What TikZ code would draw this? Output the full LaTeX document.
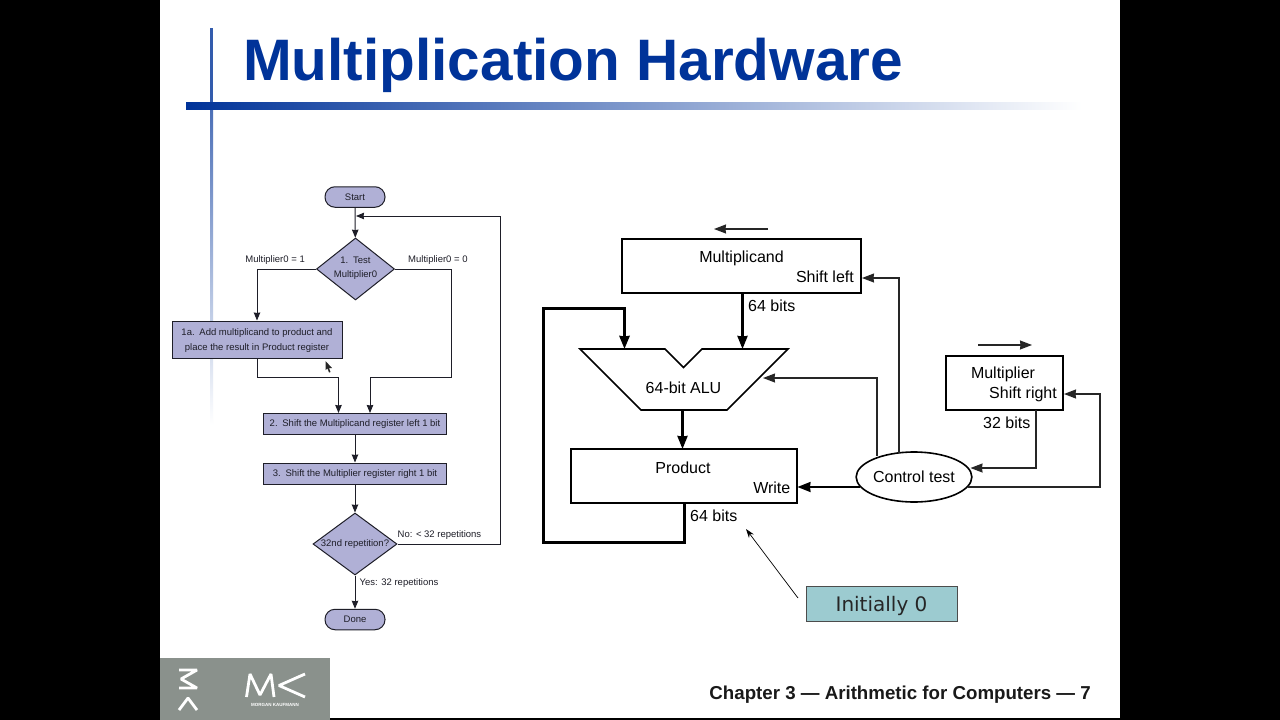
\documentclass[tikz,border=0pt]{standalone}
\usepackage{fontspec}
\setmainfont{Liberation Sans}
\newfontfamily\dejavu{DejaVu Sans}
\usetikzlibrary{shapes.geometric,arrows.meta}
\definecolor{slideblue}{RGB}{0,51,153}
\definecolor{flowfill}{RGB}{176,176,214}
\definecolor{noteteal}{RGB}{156,203,208}
\definecolor{logogray}{RGB}{138,145,140}
\definecolor{inkdark}{RGB}{30,30,40}

\begin{document}
\begin{tikzpicture}[
		x=1pt,y=-1pt,
		>={Stealth[length=8pt,width=6.5pt,inset=0.5pt]},
		flowtext/.style={font=\fontsize{9.5}{14.5}\selectfont,text=inkdark},
		flowbox/.style={
			flowtext,
			draw=inkdark,
			line width=1pt,
			fill=flowfill,
			rectangle,
			align=center,
			text depth=0pt,
			inner sep=0pt
		},
		flowpill/.style={
			flowbox,
			rounded corners=10pt,
			minimum width=60pt,
			minimum height=20.5pt
		},
		flowdiamond/.style={
			flowbox,
			diamond,
			aspect=1.24,
			text depth=2pt,
			minimum width=78pt,
			minimum height=62pt
		},
		flowline/.style={line width=1pt,draw=inkdark},
		flowarrow/.style={flowline,->},
		reg/.style={draw=black,line width=1.6pt,fill=white,rectangle,inner sep=0pt},
		regtext/.style={font=\fontsize{16}{18}\selectfont,inner sep=0pt,text=black},
		logostroke/.style={white,line width=2.8pt,line join=bevel},
		thinbus/.style={line width=1.2pt,draw=black!85,->,>={Stealth[length=12pt,width=9pt,inset=0.5pt]}},
		thickbus/.style={line width=2.4pt,draw=black,->,>={Stealth[length=13pt,width=10pt,inset=0.5pt]}}
		]
		% Slide background
		\useasboundingbox (0,0) rectangle (1280,720);
		\fill[black] (0,0) rectangle (1280,720);
		\fill[white] (160,0) rectangle (1119.5,718);
		
		% Title rules
		\fill[slideblue!80!white] (210,28) rectangle (213,110);
		\fill[top color=slideblue!70!white,bottom color=white] (210,110) rectangle (213,425);
		\fill[left color=slideblue,right color=white] (186,102.5) rectangle (1082,109.5);
		\node[anchor=base west,inner sep=0pt,text=slideblue,font=\fontsize{58.5}{60}\selectfont\bfseries] (title) at (243,80) {Multiplication Hardware};
		
		% Flow chart
		\node[flowpill] (start) at (355,197) {Start};
		\node[flowdiamond,text depth=4pt] (test) at (355.5,269) {1.\enspace Test\\Multiplier0};
		\node[flowbox,minimum width=170pt,minimum height=37pt] (add) at (257,339.5) {1a.\enspace Add multiplicand to product and\\place the result in Product register};
		\node[flowbox,minimum width=183pt,minimum height=21pt] (shiftl) at (355,423.5) {2.\enspace Shift the Multiplicand register left 1 bit};
		\node[flowbox,minimum width=183pt,minimum height=21pt] (shiftr) at (355,473.5) {3.\enspace Shift the Multiplier register right 1 bit};
		\node[flowdiamond,aspect=1.35,minimum width=84pt] (rep) at (355,544) {32nd repetition?};
		\node[flowpill] (done) at (355,619.5) {Done};
		
		% Flow chart labels
		\node[flowtext,anchor=east,inner sep=0pt] (lblone) at (305,260.5) {Multiplier0 = 1};
		\node[flowtext,anchor=west,inner sep=0pt] (lblzero) at (408,260.5) {Multiplier0 = 0};
		\node[flowtext,anchor=west,inner sep=0pt] (lblno) at (397.5,535.5) {No: < 32 repetitions};
		\node[flowtext,anchor=west,inner sep=0pt] (lblyes) at (359.5,583.5) {Yes: 32 repetitions};
		
		% Flow chart connectors
		\coordinate (loopin) at (356,216);
		\coordinate (merge1) at (338.5,413);
		\coordinate (merge2) at (370,413);
		\draw[flowarrow] (start) -- (test);
		\draw[flowarrow] (test.west) -| (add.north);
		\draw[flowarrow] (test.east) -- (451,269) -- (451,377) -| (merge2);
		\draw[flowarrow] (add.south) -- (257,377) -| (merge1);
		\draw[flowarrow] (shiftl) -- (shiftr);
		\draw[flowarrow] (shiftr) -- (rep);
		\draw[flowarrow] (rep) -- (done);
		\draw[flowarrow] (rep.east) -- (500,544) |- (loopin);
		
		% Mouse pointer
		\fill[black!85] (325.5,361) -- (325.5,370) -- (327.5,368.5) -- (329,372.5) -- (330.5,372) -- (329,368) -- (332,368) -- cycle;
		
		% Registers
		\node[reg,minimum width=239pt,minimum height=54pt] (mcand) at (741.5,266) {};
		\node[reg,minimum width=226pt,minimum height=54pt] (prod) at (684,476) {};
		\node[reg,minimum width=117pt,minimum height=54pt] (mplier) at (1004.5,383) {};
		\node[regtext] (mcandname) at (741.5,258.5) {Multiplicand};
		\node[regtext,anchor=east] (mcandop) at (854,277) {Shift left};
		\node[regtext] (prodname) at (683,468) {Product};
		\node[regtext,anchor=east] (prodop) at (790.5,488) {Write};
		\node[regtext] (mpliername) at (1003,374.5) {Multiplier};
		\node[regtext,anchor=east] (mplierop) at (1057,394) {Shift right};
		
		% ALU and control
		\draw[draw=black,line width=1.6pt,fill=white,line join=miter] (580,349) -- (665,349) -- (683.5,367.5) -- (702,349) -- (788,349) -- (727,410) -- (641,410) -- cycle;
		\node[regtext] (alu) at (683.5,388) {64-bit ALU};
		\node[draw=black,line width=1.6pt,fill=white,ellipse,minimum width=114pt,minimum height=50pt,inner sep=0pt,font=\fontsize{16}{18}\selectfont] (ctrl) at (914,477) {Control test};
		
		% Bit width labels
		\node[regtext,anchor=west] (bitsa) at (748,306) {64 bits};
		\node[regtext,anchor=west] (bitsb) at (690,516) {64 bits};
		\node[regtext,anchor=west] (bitsc) at (983,423) {32 bits};
		
		% Shift direction arrows
		\coordinate (leftfrom) at (768,229);
		\coordinate (leftto) at (714,229);
		\coordinate (rightfrom) at (978,345);
		\coordinate (rightto) at (1032,345);
		\draw[thinbus] (leftfrom) -- (leftto);
		\draw[thinbus] (rightfrom) -- (rightto);
		
		% Datapath connectors
		\coordinate (aluina) at (624.5,349);
		\coordinate (aluinb) at (742.5,349);
		\coordinate (aluout) at (682.5,410);
		\coordinate (aluctl) at (763,378);
		\coordinate (prodout) at (684,503);
		\coordinate (prodin) at (682.5,449);
		\coordinate (mcandout) at (742.5,293);
		\coordinate (mcandctl) at (862,278);
		\coordinate (prodctl) at (797.5,487);
		\coordinate (mplierctl) at (1064,394);
		\coordinate (mplierout) at (1036,410);
		\coordinate (ctrlin) at (970.5,468);
		\coordinate (ctrlalu) at (877,455.5);
		\coordinate (ctrlmcand) at (899,452.5);
		\coordinate (ctrlprod) at (860,487);
		\coordinate (ctrlmplier) at (968,487);
		\draw[thickbus] (mcandout) -- (aluinb);
		\draw[thickbus] (aluout) -- (prodin);
		\draw[thickbus,line width=3pt] (prodout) -- (684,542) -- (543,542) -- (543,308) -| (aluina);
		\draw[thickbus,line width=1.8pt] (ctrlprod) -- (prodctl);
		\draw[thinbus] (ctrlalu) |- (aluctl);
		\draw[thinbus] (ctrlmcand) |- (mcandctl);
		\draw[thinbus] (mplierout) |- (ctrlin);
		\draw[thinbus,line width=1.5pt] (ctrlmplier) -- (1100,487) |- (mplierctl);
		
		% Note
		\node[draw=black!70,line width=0.8pt,fill=noteteal,rectangle,minimum width=151pt,minimum height=35pt,inner sep=0pt,text depth=0pt,font=\dejavu\fontsize{20}{22}\selectfont,text=black!85] (note) at (881.5,604) {Initially 0};
		\coordinate (notefrom) at (798,598);
		\coordinate (noteto) at (746,529);
		\draw[line width=0.7pt,draw=black,->,>={Stealth[length=9pt,width=6pt]}] (notefrom) -- (noteto);
		
		% Footer
		\fill[logogray] (160,658) rectangle (330,720);
		\draw[logostroke] (246.5,697) -- (250,674) -- (260,695) -- (271,674) -- (274,697);
		\draw[logostroke] (305,674) -- (279,685.5) -- (305,697);
		\draw[logostroke] (179,670) -- (197,670) -- (181,679) -- (197,688) -- (179,688);
		\draw[logostroke] (179,710) -- (188,698) -- (197,710);
		\node[text=white,font=\fontsize{4.5}{5}\selectfont\bfseries,inner sep=0pt] (logotext) at (275,705) {MORGAN KAUFMANN};
		\node[anchor=base east,inner sep=0pt,text=black!90,font=\fontsize{18.7}{22}\selectfont\bfseries] (footer) at (1091,699.5) {Chapter 3 — Arithmetic for Computers — 7};
	\end{tikzpicture}
\end{document}
